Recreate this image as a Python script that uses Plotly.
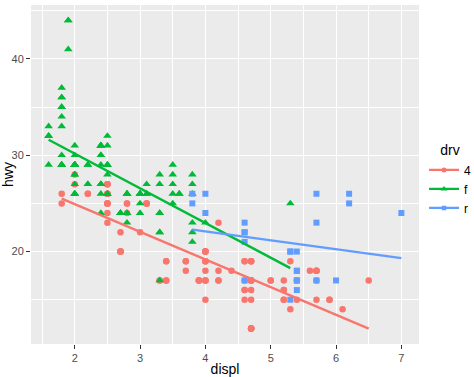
import numpy as np
import plotly.graph_objects as go

# mpg data: displ, hwy by drive type
displ_4 = [1.8, 1.8, 2.0, 2.0, 2.8, 2.8, 3.1, 3.1, 2.8, 3.1, 4.2, 5.3, 5.3, 5.7, 6.5,
           3.7, 3.7, 3.9, 3.9, 4.7, 4.7, 4.7, 5.2, 5.2, 3.9, 4.7, 4.7, 4.7, 5.2, 5.7, 5.9,
           4.7, 4.7, 4.7, 4.7, 4.7, 5.2, 5.2, 5.7, 5.9, 4.0, 4.0, 4.0, 4.0, 4.6, 5.0,
           4.2, 4.2, 4.6, 4.6, 4.6, 5.4, 5.4, 3.0, 3.7, 4.0, 4.7, 4.7, 4.7, 5.7, 6.1,
           4.0, 4.2, 4.4, 4.6, 4.0, 4.0, 4.6, 5.0, 3.3, 3.3, 4.0, 5.6,
           2.5, 2.5, 2.5, 2.5, 2.5, 2.5, 2.2, 2.2, 2.5, 2.5, 2.5, 2.5, 2.5, 2.5,
           2.7, 2.7, 3.4, 3.4, 4.0, 4.7, 4.7, 5.7, 2.7, 2.7, 2.7, 3.4, 3.4, 4.0, 4.0]
hwy_4 = [26, 25, 28, 27, 25, 25, 25, 25, 24, 25, 23, 19, 14, 15, 17,
         19, 18, 17, 17, 19, 19, 12, 17, 15, 17, 17, 12, 17, 16, 18, 15,
         16, 12, 17, 17, 12, 15, 16, 17, 15, 17, 19, 17, 19, 19, 17,
         17, 17, 16, 16, 17, 15, 17, 22, 19, 20, 17, 12, 19, 18, 14,
         15, 18, 18, 15, 17, 19, 19, 17, 17, 17, 20, 18,
         25, 24, 27, 25, 26, 23, 26, 26, 26, 26, 27, 25, 25, 27,
         20, 20, 19, 17, 20, 17, 15, 18, 20, 20, 22, 17, 19, 18, 20]

displ_f = [1.8, 1.8, 2.0, 2.0, 2.8, 2.8, 3.1, 2.4, 2.4, 3.1, 3.5, 3.6,
           2.4, 3.0, 3.3, 3.3, 3.3, 3.3, 3.3, 3.8, 3.8, 3.8, 4.0,
           1.6, 1.6, 1.6, 1.6, 1.6, 1.8, 1.8, 1.8, 2.0,
           2.4, 2.4, 2.4, 2.4, 2.5, 2.5, 3.3, 2.0, 2.0, 2.0, 2.0, 2.7, 2.7, 2.7,
           2.4, 2.4, 2.5, 2.5, 3.5, 3.5, 3.0, 3.0, 3.5,
           3.1, 3.8, 3.8, 3.8, 5.3,
           2.2, 2.2, 2.4, 2.4, 3.0, 3.0, 3.5, 2.2, 2.2, 2.4, 2.4, 3.0, 3.0, 3.3,
           1.8, 1.8, 1.8, 1.8, 1.8,
           2.0, 2.0, 2.0, 2.0, 2.8,
           1.9, 2.0, 2.0, 2.0, 2.0, 2.5, 2.5, 2.8, 2.8,
           1.9, 1.9, 2.0, 2.0, 2.5, 2.5,
           1.8, 1.8, 2.0, 2.0, 2.8, 2.8, 3.6]
hwy_f = [29, 29, 31, 30, 26, 26, 27, 27, 30, 26, 29, 26,
         24, 24, 22, 22, 24, 24, 17, 22, 21, 23, 23,
         33, 32, 32, 29, 32, 34, 36, 36, 29,
         26, 27, 30, 31, 26, 26, 28, 26, 29, 28, 27, 24, 24, 24,
         29, 27, 31, 32, 27, 26, 26, 25, 25,
         26, 26, 27, 28, 25,
         29, 27, 31, 31, 26, 26, 28, 27, 29, 31, 31, 26, 26, 27,
         30, 33, 35, 37, 35,
         29, 26, 29, 29, 24,
         44, 29, 26, 29, 29, 29, 29, 23, 24,
         44, 41, 29, 26, 28, 29,
         29, 29, 28, 29, 26, 26, 26]

displ_r = [5.3, 5.3, 5.3, 5.7, 6.0, 5.7, 5.7, 6.2, 6.2, 7.0,
           4.6, 5.4, 5.4, 3.8, 3.8, 4.0, 4.0, 4.6, 4.6, 4.6, 4.6, 5.4,
           5.4, 5.4, 5.4]
hwy_r = [20, 15, 20, 17, 17, 26, 23, 26, 25, 24,
         17, 17, 18, 26, 25, 26, 24, 21, 22, 23, 22, 20,
         17, 16, 18]

groups = [
    ("4", displ_4, hwy_4, "#F8766D", "circle", 6.5),
    ("f", displ_f, hwy_f, "#00BA38", "triangle-up", 7.5),
    ("r", displ_r, hwy_r, "#619CFF", "square", 6),
]

fig = go.Figure()

# points
for name, xs, ys, col, sym, sz in groups:
    fig.add_trace(go.Scatter(x=xs, y=ys, mode="markers", showlegend=False,
                             marker=dict(color=col, symbol=sym, size=sz, line=dict(width=0))))

# linear fits
for name, xs, ys, col, sym, sz in groups:
    xa = np.array(xs, dtype=float)
    ya = np.array(ys, dtype=float)
    b, a = np.polyfit(xa, ya, 1)
    xl = np.linspace(xa.min(), xa.max(), 80)
    fig.add_trace(go.Scatter(x=xl, y=a + b * xl, mode="lines", showlegend=False,
                             line=dict(color=col, width=2.4)))

# legend entries
for name, xs, ys, col, sym, sz in groups:
    fig.add_trace(go.Scatter(x=[None], y=[None], mode="lines+markers", name=name,
                             marker=dict(color=col, symbol=sym, size=sz - 1.5),
                             line=dict(color=col, width=2.2)))

axis_common = dict(
    showgrid=True, gridcolor="white", gridwidth=1.3,
    zeroline=False, showline=False, automargin=False,
    ticks="outside", ticklen=4, tickcolor="#333333", tickwidth=1,
    tickfont=dict(family="Liberation Sans, Arial", size=11, color="#4D4D4D"),
)

fig.update_layout(
    width=474, height=377,
    margin=dict(l=31, r=55, t=5, b=33, autoexpand=False),
    paper_bgcolor="white", plot_bgcolor="#EBEBEB",
    font=dict(family="Liberation Sans, Arial", color="black"),
    xaxis=dict(range=[1.33, 7.27], tickvals=[2, 3, 4, 5, 6, 7],
               minor=dict(tickvals=[1.5, 2.5, 3.5, 4.5, 5.5, 6.5], showgrid=True,
                          gridcolor="white", gridwidth=0.6, ticks=""),
               title=dict(text="displ", font=dict(size=14), standoff=3),
               **axis_common),
    yaxis=dict(range=[10.4, 45.6], tickvals=[20, 30, 40],
               minor=dict(tickvals=[15, 25, 35, 45], showgrid=True,
                          gridcolor="white", gridwidth=0.6, ticks=""),
               title=dict(text="hwy", font=dict(size=14), standoff=3),
               **axis_common),
    legend=dict(x=1.013, xanchor="left", y=0.61, yanchor="top",
                title=dict(text="drv", font=dict(size=14), side="top center"),
                font=dict(size=12), bgcolor="rgba(0,0,0,0)", tracegroupgap=0,
                itemwidth=30),
)

fig.write_html("out.html", config={"displayModeBar": False},
               post_script="document.body.style.margin='0';document.body.style.overflow='hidden';")
